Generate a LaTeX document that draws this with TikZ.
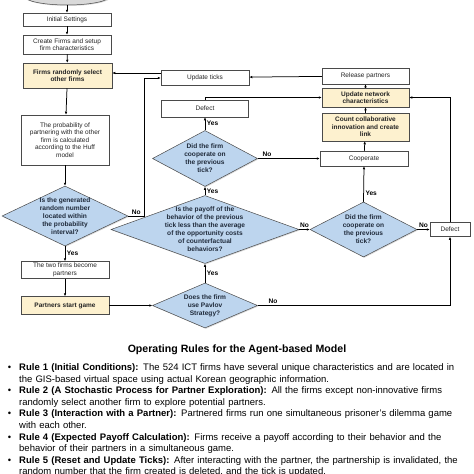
\documentclass[tikz,border=0pt]{standalone}
\usepackage{fontspec}
\setmainfont{Liberation Sans}
\usetikzlibrary{shapes.geometric,arrows.meta,shadows}
\definecolor{diafill}{HTML}{BDD5EE}
\definecolor{yel}{HTML}{FDF1CF}
\definecolor{edgec}{HTML}{4A4A4A}
\definecolor{txt}{HTML}{1F2A3A}
\newcommand{\bul}{\leavevmode\llap{\textbullet\hspace{8pt}}}
\tikzset{
  shad/.style={drop shadow={shadow xshift=0.9pt, shadow yshift=-0.9pt, opacity=0.3}},
  box/.style={draw=edgec, line width=0.5pt, fill=white, inner sep=0pt, align=center,
    font=\fontsize{6.5}{7.6}\selectfont, text=black!85, shad},
  ybox/.style={box, fill=yel, font=\fontsize{6.5}{7.6}\selectfont\bfseries},
  decision/.style={diamond, draw=edgec, line width=0.5pt, fill=diafill, inner sep=0pt, shad},
  dtext/.style={font=\fontsize{6.6}{8}\selectfont\bfseries, text=txt, align=center, inner sep=0pt},
  lbl/.style={font=\fontsize{6.6}{8}\selectfont\bfseries, inner sep=1.5pt},
  arr/.style={-{Latex[length=3pt,width=2.6pt]}, line width=0.75pt},
}
\begin{document}
\begin{tikzpicture}[x=1pt,y=-1pt]
\clip (0,0) rectangle (474,474);
\fill[white] (0,0) rectangle (474,474);
% left column
\node[ellipse, draw=edgec, line width=0.5pt, fill=gray!30, minimum width=86pt, minimum height=18pt, inner sep=0pt, font=\fontsize{6.7}{8}\selectfont\bfseries, shad] (start) at (67,-4) {\raisebox{-2.5pt}{Start}};
\node[box, minimum width=88pt, minimum height=13pt] (init) at (67,19.5) {Initial Settings};
\node[box, minimum width=88pt, minimum height=19pt] (create) at (67,44.5) {Create Firms and setup\\firm characteristics};
\node[ybox, minimum width=89pt, minimum height=25pt] (select) at (67.5,75.5) {Firms randomly select\\other firms};
\node[box, minimum width=88pt, minimum height=50pt] (prob) at (65,140) {The probability of\\partnering with the other\\firm is calculated\\according to the Huff\\model};
\node[decision, minimum width=126pt, minimum height=60pt,
  label={[dtext]center:{Is the generated\\random number\\located within\\the probability\\interval?}}] (d1) at (65,216) {};
\node[box, minimum width=88pt, minimum height=17pt] (two) at (65,270) {The two firms become\\partners};
\node[ybox, minimum width=88pt, minimum height=18pt] (startgame) at (65,305.5) {Partners start game};
% middle column
\node[box, minimum width=88pt, minimum height=15pt] (ticks) at (205,77.5) {Update ticks};
\node[box, minimum width=87pt, minimum height=17pt] (defectU) at (205,108.5) {Defect};
\node[decision, minimum width=105pt, minimum height=56pt,
  label={[dtext]center:{Did the firm\\cooperate on\\the previous\\tick?}}] (d2) at (205,158.5) {};
\node[decision, minimum width=188pt, minimum height=68pt,
  label={[dtext]center:{Is the payoff of the\\behavior of the previous\\tick less than the average\\of the opportunity costs\\of counterfactual\\behaviors?}}] (d3) at (205,229.5) {};
\node[decision, minimum width=105pt, minimum height=45pt,
  label={[dtext]center:{Does the firm\\use Pavlov\\Strategy?}}] (d5) at (205,305.5) {};
% right column
\node[box, minimum width=87pt, minimum height=16pt] (release) at (365.5,76) {Release partners};
\node[ybox, minimum width=87pt, minimum height=19pt] (network) at (365.5,97.5) {Update network\\characteristics};
\node[ybox, minimum width=87pt, minimum height=28pt] (count) at (365.5,127) {Count collaborative\\innovation and create\\link};
\node[box, minimum width=88pt, minimum height=15pt] (coop) at (364,158.5) {Cooperate};
\node[decision, minimum width=107pt, minimum height=55pt,
  label={[dtext]center:{Did the firm\\cooperate on\\the previous\\tick?}}] (d4) at (363.5,229.5) {};
\node[box, minimum width=40pt, minimum height=14pt] (defectR) at (450,229.5) {Defect};
% connectors
\draw[arr] (start) -- (init);
\draw[arr] (init) -- (create);
\draw[arr] (create) -- (select);
\draw[arr] (select) -- (prob);
\draw[arr] (prob) -- (d1);
\draw[arr] (d1.south) -- node[lbl,right]{Yes} (two);
\draw[arr] (two) -- (startgame);
\draw[arr] (startgame) -- (d5.west);
\draw[arr] (d5.north) -- node[lbl,right]{Yes} (d3.south);
\draw[arr] (d3.north) -- node[lbl,right]{Yes} (d2.south);
\draw[arr] (d2.north) -- node[lbl,right]{Yes} (defectU.south);
\draw[arr] (d2.east) -- node[lbl,above,pos=0.15]{No} (coop.west);
\draw[arr] (d3.east) -- node[lbl,above]{No} (d4.west);
\draw[arr] (d4.north) -- node[lbl,right,pos=0.25]{Yes} (coop.south);
\draw[arr] (d4.east) -- node[lbl,above]{No} (defectR.west);
\draw[arr] (d5.east) -- node[lbl,above,pos=0.08]{No} (defectR.south |- d5.east) -- (defectR.south);
\draw[arr] (defectR.north) |- (network.east);
\draw[arr] (defectU.north) |- (network.west);
\draw[arr] (coop) -- (count);
\draw[arr] (count) -- (network);
\draw[arr] (network) -- (release);
\draw[arr] (release) -- (ticks);
\coordinate (t1) at ([yshift=4.5pt]ticks.west);
\draw[arr] (t1) -- (t1 -| select.east);
\coordinate (t2) at ([yshift=-0.5pt]ticks.west);
\draw[arr] (d1.east) -- node[lbl,above]{No} ++(16,0) |- (t2);
% rules
\node[font=\fontsize{10.6}{12}\selectfont\bfseries] (title) at (237,350) {Operating Rules for the Agent-based Model};
\node[anchor=base west, align=left, text width=470pt, inner sep=0pt, font=\fontsize{9.5}{11.6}\selectfont] (rules) at (19,370.5) {%
\bul\textbf{Rule 1 (Initial Conditions):} The 524 ICT firms have several unique characteristics and are located in\\
the GIS-based virtual space using actual Korean geographic information.\\
\bul\textbf{Rule 2 (A Stochastic Process for Partner Exploration):} All the firms except non-innovative firms\\
randomly select another firm to explore potential partners.\\
\bul\textbf{Rule 3 (Interaction with a Partner):} Partnered firms run one simultaneous prisoner's dilemma game\\
with each other.\\
\bul\textbf{Rule 4 (Expected Payoff Calculation):} Firms receive a payoff according to their behavior and the\\
behavior of their partners in a simultaneous game.\\
\bul\textbf{Rule 5 (Reset and Update Ticks):} After interacting with the partner, the partnership is invalidated, the\\
random number that the firm created is deleted, and the tick is updated.};
\end{tikzpicture}
\end{document}
